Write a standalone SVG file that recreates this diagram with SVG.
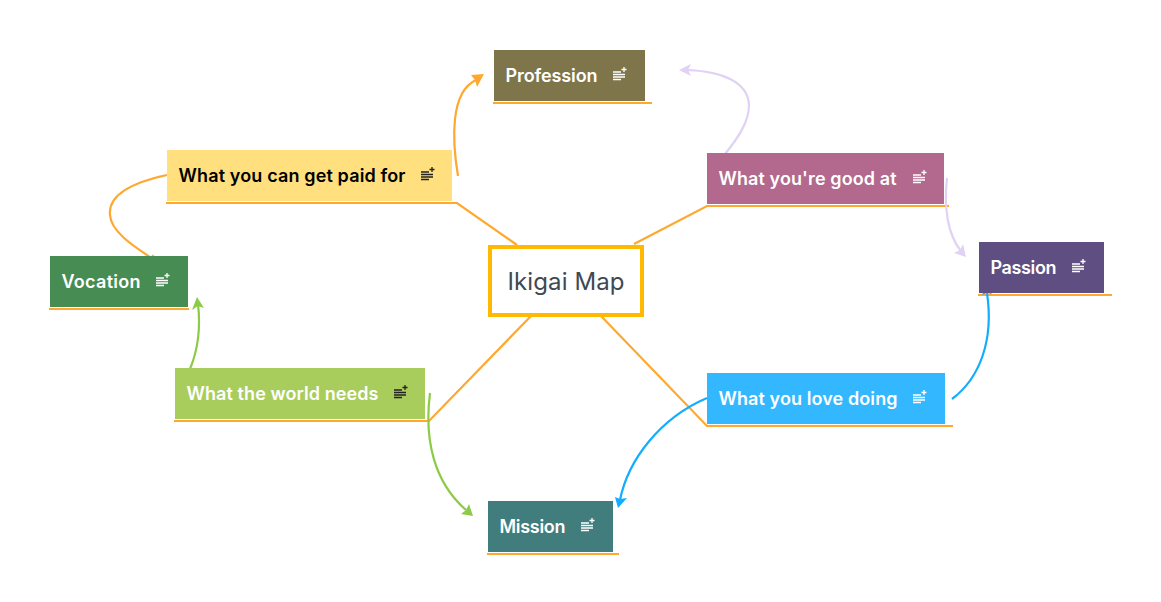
<svg xmlns="http://www.w3.org/2000/svg" width="1161" height="602" viewBox="0 0 1161 602">
<style>
.t{font-family:"Inter","Liberation Sans",sans-serif;font-size:18px;font-weight:600}
.u{fill:none;stroke:#FFA82E;stroke-width:2.200}
.c{fill:none;stroke-width:2.200}
.i{stroke-width:1.300;fill:none}
</style>
<defs>
<g id="note"><path class="i" d="M0 1H8M0 3.500H12M0 6H12M0 8.500H8M11 -4V1M8.500 -1.500H13.500"/></g>
</defs>
<rect width="1161" height="602" fill="#fff"/>
<g id="connectors">
<path class="u" d="M166 203H457L517 245"/>
<path class="u" d="M634 244L707 206H949"/>
<path class="u" d="M174 421H429L531 316"/>
<path class="u" d="M601 316L707 426H953"/>
<path class="u" d="M493 103H652"/>
<path class="u" d="M49 309H189"/>
<path class="u" d="M487 554H619"/>
<path class="u" d="M978 295H1112"/>
<path class="c" stroke="#FFA82E" d="M458 176C452 140 450 92 476 80"/>
<path fill="#FFA82E" d="M484 74L471 75L475 80L477 87Z"/>
<path class="c" stroke="#FFA82E" d="M167 175C130 183 108 196 110 215C111 232 135 247 150 257"/>
<path fill="#FFA82E" d="M153 254.500L150 257L156 258Z"/>
<path class="c" stroke="#E1D1F5" d="M725 154C738 138 749 122 749 105C748 82 722 71 686 70"/>
<path fill="#E1D1F5" d="M679 70L691 64L688 70L691 76Z"/>
<path class="c" stroke="#E1D1F5" d="M947 178C944 206 947 232 960 250"/>
<path fill="#E1D1F5" d="M966 257L954 253L960 250L963 244Z"/>
<path class="c" stroke="#8CCB45" d="M190 369C197 352 201 330 198 304"/>
<path fill="#8CCB45" d="M197 297L192 310L198 306L204 308Z"/>
<path class="c" stroke="#8CCB45" d="M430 393C424 440 434 482 466 510"/>
<path fill="#8CCB45" d="M473 516L461 514L466 510L469 504Z"/>
<path class="c" stroke="#12ADFF" d="M952 399C980 378 994 340 987 293"/>
<path fill="#12ADFF" d="M986 286L982 295L987 293L992 294Z"/>
<path class="c" stroke="#12ADFF" d="M707 398C660 418 628 460 620 500"/>
<path fill="#12ADFF" d="M618 508L615 497L620 499L627 498Z"/>
</g>
<g id="center"><rect x="490" y="247" width="152" height="68" fill="#fff" stroke="#FFB900" stroke-width="4"/><text x="566" y="290" text-anchor="middle" font-family="Inter,'Liberation Sans',sans-serif" font-size="24" fill="#3E4A52" textLength="117">Ikigai Map</text></g>
<g id="profession"><rect x="494" y="50" width="151" height="51" fill="#7F754B"/><text class="t" x="505.500" y="82" fill="#fff" textLength="92">Profession</text><use href="#note" x="613" y="71" stroke="#fff"/></g>
<g id="paid"><rect x="167" y="150" width="285" height="51" fill="#FFDF7E"/><text class="t" x="178.500" y="182" fill="#000" textLength="227">What you can get paid for</text><use href="#note" x="421" y="171" stroke="#222"/></g>
<g id="vocation"><rect x="50" y="256" width="138" height="51" fill="#478C53"/><text class="t" x="61.500" y="288" fill="#fff" textLength="79">Vocation</text><use href="#note" x="156" y="277" stroke="#fff"/></g>
<g id="world"><rect x="175" y="368" width="250" height="51" fill="#A9CD5C"/><text class="t" x="186.500" y="400" fill="#fff" textLength="192">What the world needs</text><use href="#note" x="394" y="389" stroke="#222"/></g>
<g id="mission"><rect x="488" y="501" width="125" height="51" fill="#417D7D"/><text class="t" x="499.500" y="533" fill="#fff" textLength="66">Mission</text><use href="#note" x="581" y="522" stroke="#fff"/></g>
<g id="love"><rect x="707" y="373" width="238" height="51" fill="#33B8FF"/><text class="t" x="718.500" y="405" fill="#fff" textLength="179">What you love doing</text><use href="#note" x="913" y="394" stroke="#fff"/></g>
<g id="good"><rect x="707" y="153" width="237" height="51" fill="#B2698D"/><text class="t" x="718.500" y="185" fill="#fff" textLength="178">What you're good at</text><use href="#note" x="913" y="174" stroke="#fff"/></g>
<g id="passion"><rect x="979" y="242" width="125" height="51" fill="#5F4E82"/><text class="t" x="990.500" y="274" fill="#fff" textLength="66">Passion</text><use href="#note" x="1072" y="263" stroke="#fff"/></g>
</svg>
